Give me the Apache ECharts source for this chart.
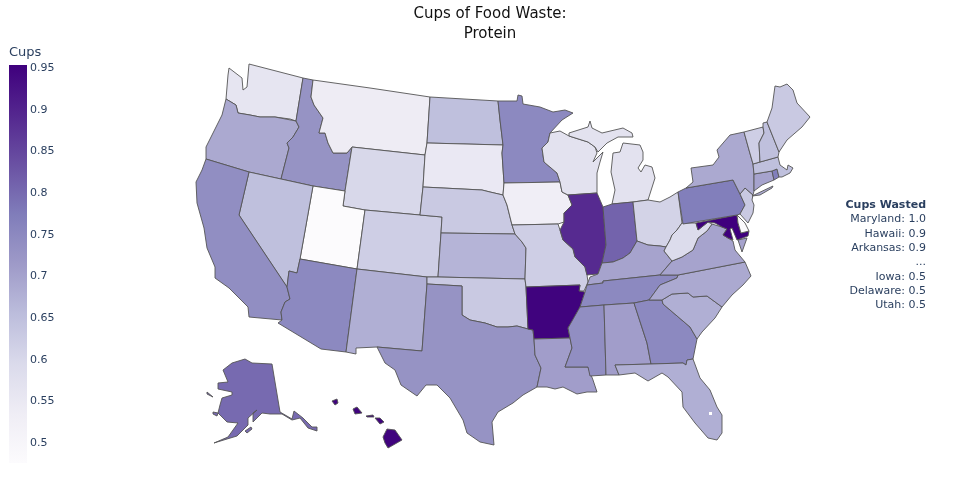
<!DOCTYPE html>
<html>
<head>
<meta charset="utf-8">
<title>Cups of Food Waste</title>
<script src="https://cdn.jsdelivr.net/npm/echarts@6/dist/echarts.min.js"></script>
<style>
  html, body { margin: 0; background: #fff; }
  #main { width: 980px; height: 490px; }
</style>
</head>
<body>
<div id="main"></div>
<script>
const states = ['Alabama','Alaska','Arizona','Arkansas','California','Colorado','Connecticut','Delaware','Florida','Georgia','Hawaii','Idaho','Illinois','Indiana','Iowa','Kansas','Kentucky','Louisiana','Maine','Maryland','Massachusetts','Michigan','Minnesota','Mississippi','Missouri','Montana','Nebraska','Nevada','New Hampshire','New Jersey','New Mexico','New York','North Carolina','North Dakota','Ohio','Oklahoma','Oregon','Pennsylvania','Rhode Island','South Carolina','South Dakota','Tennessee','Texas','Utah','Vermont','Virginia','Washington','West Virginia','Wisconsin','Wyoming']
const cups = [0.71,0.80,0.75,0.95,0.74,0.62,0.70,0.48,0.68,0.75,0.95,0.73,0.89,0.81,0.53,0.67,0.70,0.71,0.63,0.954,0.65,0.57,0.75,0.74,0.62,0.54,0.63,0.65,0.65,0.63,0.68,0.69,0.69,0.65,0.61,0.63,0.69,0.77,0.77,0.68,0.55,0.75,0.73,0.476,0.62,0.70,0.56,0.59,0.57,0.60]

const tickLabels = [0.5,0.55,0.6,0.65,0.7,0.75,0.8,0.85,0.9,0.95]
const scaleMin = 0.476
const scaleMax = 0.954
const purples = ['#fcfbfd','#efedf5','#dadaeb','#bcbddc','#9e9ac8','#807dba','#6a51a3','#54278f','#3f007d']

const noteTitle = 'Cups Wasted'
const noteLines = ['Maryland: 1.0','Hawaii: 0.9','Arkansas: 0.9','...','Iowa: 0.5','Delaware: 0.5','Utah: 0.5']

// no base map is available offline, so these outlines are hand traced from the picture.
// they are region geometry in page pixels, each state is a list of rings
const stateShapes = {
  'Washington': [[[229,68],[242,78],[243,90],[247,87],[249,64],[303,78],[296,121],[290,119],[275,117],[260,117],[250,115],[238,113],[236,105],[226,99],[228,75]]],
  'Oregon': [[[226,99],[236,105],[238,113],[250,115],[260,117],[275,117],[296,121],[299,127],[293,137],[287,143],[289,148],[281,179],[249,172],[206,159],[206,147],[213,133],[222,115]]],
  'Idaho': [[[303,78],[313,80],[311,97],[314,105],[323,118],[319,133],[325,133],[328,143],[333,153],[347,153],[352,147],[345,191],[313,186],[281,179],[289,148],[287,143],[293,137],[299,127],[296,121]]],
  'Montana': [[[313,80],[370,88],[430,97],[427,143],[425,155],[352,147],[347,153],[333,153],[328,143],[325,133],[319,133],[323,118],[314,105],[311,97]]],
  'Wyoming': [[[352,147],[425,155],[423,187],[420,215],[365,210],[343,206],[345,191]]],
  'Utah': [[[313,186],[345,191],[343,206],[365,210],[357,269],[300,259]]],
  'Nevada': [[[249,172],[281,179],[313,186],[300,259],[297,273],[289,271],[287,287],[239,215]]],
  'California': [[[206,159],[249,172],[239,215],[287,287],[290,299],[285,302],[281,312],[282,320],[249,317],[248,307],[238,297],[229,288],[215,278],[215,267],[207,248],[204,228],[197,203],[196,182],[202,170]]],
  'Arizona': [[[300,259],[357,269],[346,352],[321,349],[278,323],[282,320],[281,312],[285,302],[290,299],[287,287],[289,271],[297,273]]],
  'Colorado': [[[365,210],[420,215],[442,217],[441,233],[438,277],[427,277],[357,269]]],
  'New Mexico': [[[357,269],[427,277],[427,284],[422,351],[377,347],[356,348],[356,354],[346,352]]],
  'North Dakota': [[[430,97],[498,101],[500,120],[503,145],[427,143]]],
  'South Dakota': [[[427,143],[503,145],[502,153],[504,183],[503,195],[490,192],[482,190],[423,187],[425,155]]],
  'Nebraska': [[[423,187],[482,190],[490,192],[503,195],[507,205],[512,225],[515,234],[441,233],[442,217],[420,215]]],
  'Kansas': [[[441,233],[515,234],[522,242],[526,248],[525,279],[438,277]]],
  'Oklahoma': [[[427,277],[438,277],[525,279],[526,287],[528,329],[517,326],[508,327],[497,327],[485,323],[470,320],[462,315],[462,286],[427,284]]],
  'Texas': [[[427,284],[462,286],[462,315],[470,320],[485,323],[497,327],[508,327],[517,326],[528,329],[533,330],[534,339],[535,355],[541,368],[537,387],[523,395],[513,403],[498,412],[492,422],[494,445],[480,442],[467,433],[463,420],[450,398],[437,385],[426,385],[417,396],[401,385],[395,370],[385,363],[377,347],[422,351]]],
  'Minnesota': [[[498,101],[517,101],[518,95],[522,96],[523,104],[540,107],[553,112],[565,110],[573,113],[562,120],[550,133],[548,142],[542,148],[544,162],[557,173],[560,182],[504,183],[502,153],[503,145],[500,120]]],
  'Iowa': [[[504,183],[560,182],[562,192],[568,195],[572,205],[564,213],[564,222],[558,224],[512,225],[507,205],[503,195]]],
  'Missouri': [[[512,225],[558,224],[560,230],[563,240],[573,249],[575,257],[585,267],[587,275],[588,282],[584,291],[579,291],[580,285],[526,287],[525,279],[526,248],[522,242],[515,234]]],
  'Arkansas': [[[526,287],[580,285],[579,291],[585,292],[580,307],[573,320],[568,328],[570,338],[534,339],[533,330],[528,329]]],
  'Louisiana': [[[534,339],[570,338],[572,348],[565,367],[588,367],[593,380],[597,392],[587,392],[577,394],[563,387],[555,389],[547,387],[537,387],[541,368],[535,355]]],
  'Wisconsin': [[[550,133],[560,131],[569,136],[588,142],[595,147],[597,153],[593,162],[603,152],[600,162],[597,173],[597,193],[568,195],[562,192],[560,182],[557,173],[544,162],[542,148],[548,142]]],
  'Michigan': [[[569,133],[588,127],[590,121],[592,128],[602,133],[623,128],[632,133],[633,137],[618,137],[607,143],[598,152],[595,147],[588,142],[569,136]],
    [[612,204],[615,190],[611,172],[613,153],[620,152],[623,143],[640,145],[643,152],[643,160],[638,168],[641,172],[645,165],[652,167],[655,178],[648,200],[633,202]]],
  'Illinois': [[[568,195],[597,193],[603,207],[606,245],[602,263],[598,274],[587,275],[585,267],[575,257],[573,249],[563,240],[560,230],[564,222],[564,213],[572,205]]],
  'Indiana': [[[603,207],[612,204],[633,202],[637,241],[630,253],[623,258],[613,262],[602,263],[606,245]]],
  'Ohio': [[[633,202],[648,200],[660,202],[670,197],[678,192],[682,223],[677,230],[672,235],[670,240],[666,247],[660,246],[648,245],[637,241]]],
  'Kentucky': [[[602,263],[613,262],[623,258],[630,253],[637,241],[648,245],[660,246],[666,247],[664,251],[672,261],[660,275],[603,281],[603,283],[587,285],[590,277],[598,274]]],
  'Tennessee': [[[587,285],[603,283],[603,281],[660,275],[678,275],[677,278],[660,285],[649,300],[634,303],[604,305],[580,307],[585,292]]],
  'Mississippi': [[[580,307],[604,305],[606,375],[590,376],[588,367],[565,367],[572,348],[570,338],[568,328]]],
  'Alabama': [[[604,305],[634,303],[647,343],[651,364],[615,365],[619,375],[606,375]]],
  'Georgia': [[[634,303],[649,300],[662,300],[663,304],[690,327],[697,339],[693,359],[687,360],[686,365],[683,363],[651,364],[647,343]]],
  'Florida': [[[615,365],[651,364],[683,363],[686,365],[687,360],[693,359],[700,378],[710,390],[717,407],[722,415],[722,433],[717,440],[708,438],[695,423],[683,407],[682,392],[668,377],[662,373],[648,381],[635,373],[619,375]]],
  'South Carolina': [[[662,300],[672,294],[688,293],[693,297],[707,296],[722,307],[715,318],[702,332],[697,339],[690,327],[663,304]]],
  'North Carolina': [[[745,262],[751,276],[743,285],[732,295],[722,307],[707,296],[693,297],[688,293],[672,294],[662,300],[649,300],[660,285],[677,278],[678,275]]],
  'Virginia': [[[660,275],[672,261],[682,257],[693,250],[698,238],[707,231],[712,224],[722,227],[727,229],[723,235],[728,238],[733,241],[735,250],[745,262],[678,275]],
    [[738,240],[747,238],[742,252]]],
  'West Virginia': [[[682,223],[696,223],[698,230],[708,222],[712,224],[707,231],[698,238],[693,250],[682,257],[672,261],[664,251],[666,247],[670,240],[672,235],[677,230]]],
  'Maryland': [[[696,223],[737,215],[738,223],[741,233],[749,231],[748,236],[737,240],[732,228],[730,229],[733,240],[728,238],[723,235],[727,229],[722,227],[715,223],[708,222],[698,230]]],
  'Delaware': [[[737,215],[745,223],[749,231],[741,233],[738,223]]],
  'Pennsylvania': [[[678,192],[686,188],[733,180],[740,194],[745,205],[740,214],[737,215],[683,224]]],
  'New Jersey': [[[740,194],[745,188],[753,195],[752,200],[754,205],[753,213],[748,223],[740,214],[745,205]]],
  'New York': [[[686,188],[693,182],[691,168],[713,165],[719,157],[717,150],[730,135],[744,132],[749,150],[753,164],[754,174],[754,191],[753,195],[745,188],[740,194],[733,180]],
    [[752,196],[773,186],[772,188],[760,195]]],
  'Connecticut': [[[754,174],[772,171],[774,180],[762,185],[754,191]]],
  'Rhode Island': [[[772,171],[777,169],[779,177],[774,180]]],
  'Massachusetts': [[[753,164],[760,162],[778,157],[780,165],[787,170],[788,165],[793,168],[790,173],[782,177],[779,177],[777,169],[772,171],[754,174]]],
  'Vermont': [[[744,132],[763,127],[764,133],[759,143],[760,162],[753,164],[749,150]]],
  'New Hampshire': [[[763,123],[767,122],[779,152],[778,157],[760,162],[759,143],[764,133],[763,127]]],
  'Maine': [[[767,122],[772,108],[775,86],[780,87],[787,84],[793,90],[797,103],[810,117],[802,127],[787,140],[779,152]]],
  'Alaska': [[[272,364],[280,412],[292,419],[294,411],[303,418],[312,427],[317,427],[317,431],[308,428],[300,418],[292,420],[282,414],[270,414],[262,413],[253,422],[253,413],[257,410],[248,418],[248,425],[237,436],[227,439],[214,443],[228,437],[238,423],[227,422],[218,413],[220,405],[222,398],[232,395],[232,392],[218,389],[218,383],[228,382],[223,370],[232,363],[245,359],[252,363]],
    [[245,431],[251,427],[252,429],[247,433]],
    [[207,392],[213,397],[212,397],[207,394]],
    [[213,412],[218,413],[217,416],[213,414]]],
  'Hawaii': [[[332,401],[337,399],[338,403],[335,405]],
    [[353,409],[357,407],[362,413],[355,414]],
    [[366,416],[373,415],[374,417],[367,417]],
    [[375,418],[380,418],[384,422],[380,424]],
    [[387,429],[395,430],[402,440],[388,448],[385,443],[383,437]]],
  'Lake Okeechobee': [[[709,412],[712,412],[712,415],[709,415]]]
}

const features = Object.keys(stateShapes).map(name => ({
  type: 'Feature',
  properties: { name: name },
  geometry: { type: 'MultiPolygon', coordinates: stateShapes[name].map(ring => [ring]) }
}))
echarts.registerMap('usa', { type: 'FeatureCollection', features: features })

const font = 'DejaVu Sans'
const inkBlue = '#2a3f5f'

const seriesData = states.map((name, i) => ({ name: name, value: cups[i] }))
seriesData.push({ name: 'Lake Okeechobee', visualMap: false, itemStyle: { color: '#fff', areaColor: '#fff', borderWidth: 0 } })

const noteText = ['{b|' + noteTitle + '}'].concat(noteLines.map(l => '{n|' + l + '}')).join('\n')

// same colours as the visualMap, top of the bar is the high end
const barStops = purples.map((c, i) => ({ offset: 1 - i / (purples.length - 1), color: c }))

const myChart = echarts.init(document.getElementById('main'))
myChart.setOption({
  animation: false,
  backgroundColor: '#fff',
  title: [
    {
      text: 'Cups of Food Waste:\nProtein',
      left: 'center', top: 4, padding: 0,
      textStyle: { fontFamily: font, fontSize: 15, fontWeight: 'normal', color: '#111', lineHeight: 20, align: 'center' }
    },
    {
      text: 'Cups',
      left: 9, top: 46, padding: 0,
      textStyle: { fontFamily: font, fontSize: 13, fontWeight: 'normal', color: inkBlue }
    },
    {
      text: noteText,
      left: 926, top: 198, padding: 0,
      textAlign: 'right',
      textStyle: {
        fontFamily: font, fontSize: 11, fontWeight: 'normal', color: inkBlue,
        rich: {
          b: { fontFamily: font, fontSize: 11, fontWeight: 'bold', color: inkBlue, lineHeight: 14.3, align: 'right' },
          n: { fontFamily: font, fontSize: 11, fontWeight: 'normal', color: inkBlue, lineHeight: 14.3, align: 'right' }
        }
      }
    }
  ],
  // this grid only carries the colour bar and its tick labels
  grid: { left: 9, width: 18, top: 65, height: 398 },
  xAxis: { type: 'category', show: false, data: ['Cups'] },
  yAxis: {
    type: 'value',
    position: 'right',
    min: scaleMin,
    max: scaleMax,
    axisLine: { show: false },
    axisTick: { show: false },
    splitLine: { show: false },
    axisLabel: {
      customValues: tickLabels,
      margin: 3,
      fontFamily: font,
      fontSize: 11,
      color: inkBlue
    }
  },
  visualMap: {
    type: 'continuous',
    show: false,
    seriesIndex: 0,
    min: scaleMin,
    max: scaleMax,
    inRange: { color: purples }
  },
  series: [
    {
      type: 'map',
      map: 'usa',
      silent: true,
      roam: false,
      projection: { project: p => p, unproject: p => p },
      boundingCoords: [[0, 0], [980, 490]],
      left: 0, top: 0, width: 980, height: 490,
      label: { show: false },
      itemStyle: { borderColor: '#555', borderWidth: 0.9 },
      emphasis: { disabled: true },
      data: seriesData
    },
    {
      type: 'bar',
      silent: true,
      barWidth: 18,
      data: [scaleMax],
      itemStyle: { color: new echarts.graphic.LinearGradient(0, 0, 0, 1, barStops) }
    }
  ]
})
</script>
</body>
</html>
